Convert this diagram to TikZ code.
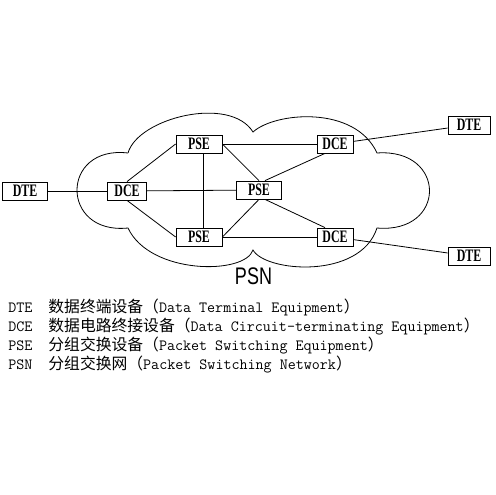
\documentclass[tikz,border=0pt]{standalone}
\usepackage{fontspec}
\setmainfont{Liberation Serif}
\newfontfamily\boxfont[FakeStretch=0.68]{Liberation Serif}
\newfontfamily\psnfont[FakeStretch=0.75]{Liberation Sans}
\newfontfamily\cjk{Noto Sans CJK SC}
\newcommand{\zhtext}[1]{{\fontsize{15.8}{16}\selectfont\cjk #1}}

\begin{document}
\begin{tikzpicture}[x=1pt, y=-1pt, line width=0.8pt,
    unit/.style={draw, fill=white, inner sep=0pt, minimum height=18pt,
                 font=\boxfont\bfseries\fontsize{17.5}{17.5}\selectfont},
    legend/.style={anchor=base west, inner sep=0pt,
                   font=\ttfamily\fontsize{15.6}{16}\selectfont}]

\useasboundingbox (0,0) rectangle (495,495);

% --- PSN cloud ---
\draw (128,153) .. controls (138,118) and (230,95) .. (253,132)
      .. controls (275,112) and (355,105) .. (377,153)
      .. controls (447,148) and (447,234) .. (377,228)
      .. controls (360,280) and (265,272) .. (253,250)
      .. controls (245,275) and (150,275) .. (128,228)
      .. controls (60,235) and (60,145) .. (128,153);

\node[font=\psnfont\fontsize{24}{24}\selectfont] (psn) at (253.5,276.5) {PSN};

% --- Equipment ---
\node[unit, minimum width=45pt] (dteL)  at (25,191)  {DTE};
\node[unit, minimum width=39pt] (dceL)  at (127,191) {DCE};
\node[unit, minimum width=46pt] (pseT)  at (199,144) {PSE};
\node[unit, minimum width=46pt] (pseB)  at (199,237) {PSE};
\node[unit, minimum width=45pt] (pseM)  at (259,190) {PSE};
\node[unit, minimum width=36pt] (dceTR) at (335,144) {DCE};
\node[unit, minimum width=36pt] (dceBR) at (335,237) {DCE};
\node[unit, minimum width=42pt] (dteTR) at (469,125) {DTE};
\node[unit, minimum width=42pt] (dteBR) at (469,256) {DTE};

% --- Links ---
\draw (dteL) -- (dceL);
\draw (dceL) -- (pseM);
\draw (dceL.north) -- (pseT.west);
\draw (dceL.south) -- (pseB.west);
\draw ([xshift=4pt]pseT.south) -- ([xshift=4pt]pseB.north);
\draw (pseT) -- (dceTR);
\draw (pseB) -- (dceBR);
\draw (pseT.east) -- (pseM.north);
\draw (pseB.east) -- (pseM.south);
\draw ([xshift=-10pt]dceTR.south) -- ([xshift=6pt]pseM.north);
\draw ([xshift=6pt]pseM.south) -- ([xshift=-10pt]dceBR.north);
\draw (dceTR) -- (dteTR);
\draw (dceBR) -- (dteBR);

% --- Legend ---
\foreach \abbr/\zh/\en [count=\r] in {DTE/数据终端设备/Data Terminal Equipment,
                                     DCE/数据电路终接设备/Data Circuit-terminating Equipment,
                                     PSE/分组交换设备/Packet Switching Equipment,
                                     PSN/分组交换网/Packet Switching Network} {
    \node[legend] (leg\r) at (8, 292.7+19.3*\r) {\makebox[40pt][l]{\abbr}\zhtext{\zh（}\en\zhtext{）}};
}

\end{tikzpicture}
\end{document}
